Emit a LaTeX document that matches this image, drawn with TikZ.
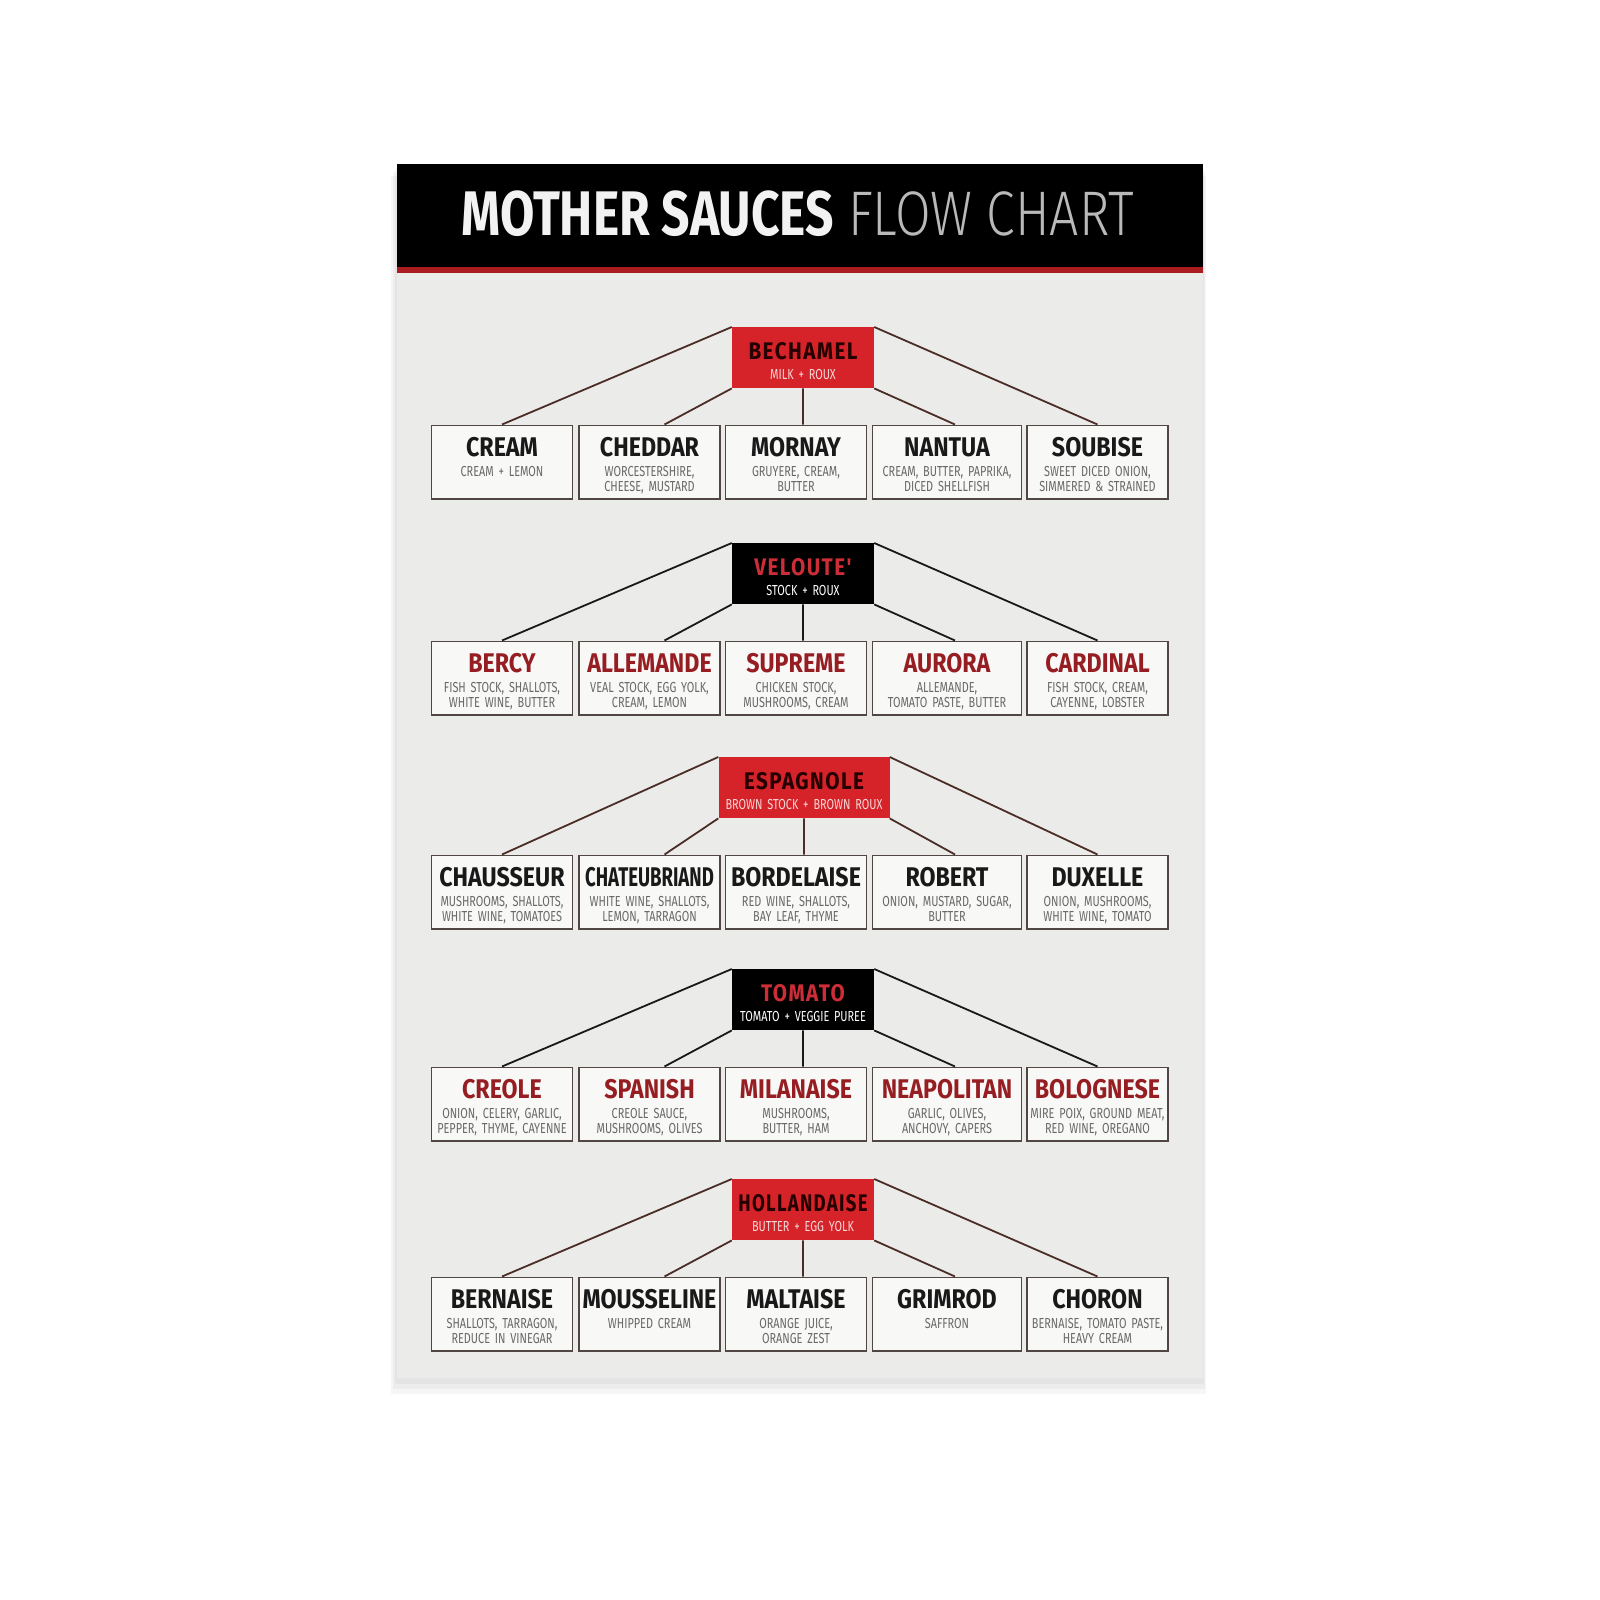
\documentclass[tikz,border=0pt]{standalone}
\usepackage{fontspec}
\setmainfont{Fira Sans}
\newfontfamily\cabecera{Fira Sans}[FakeStretch=0.79]
\newfontfamily\cabeceraligera{Fira Sans Light}[FakeStretch=0.82]
\newfontfamily\nombrefont{Fira Sans}[FakeStretch=0.86]
\newfontfamily\madrefont{Fira Sans}[FakeStretch=0.86,LetterSpace=6]
\newfontfamily\notafont{Fira Sans}[FakeStretch=0.75,WordSpace=0.6]

\definecolor{rojosalsa}{RGB}{214,35,41}
\definecolor{rojooscuro}{RGB}{150,30,35}
\definecolor{rojotexto}{RGB}{205,45,55}
\definecolor{gristexto}{RGB}{105,105,105}
\definecolor{marmol}{RGB}{235,235,234}
\definecolor{cajafondo}{RGB}{248,248,247}
\definecolor{bordecaja}{RGB}{80,70,68}
\definecolor{lineamarron}{RGB}{75,45,40}
\definecolor{rosaclaro}{RGB}{245,215,215}
\definecolor{grisclaro}{RGB}{185,185,185}
\colorlet{nombrecolor}{black}
\colorlet{madrecolor}{black}

\newcommand{\nombre}[1]{{\nombrefont\bfseries\fontsize{27}{27}\selectfont\color{nombrecolor}#1}}
\newcommand{\salsamadre}[1]{{\madrefont\bfseries\fontsize{24}{24}\selectfont\color{madrecolor}#1}}

\begin{document}
\begin{tikzpicture}[x=1pt,y=-1pt,
    madre/.style={anchor=north, text width=142pt, inner sep=0pt,
      text height=32.7pt, text depth=28.3pt, align=center,
      font=\notafont\fontsize{14.5}{20}\selectfont},
    madreroja/.style={madre, fill=rojosalsa, text=rosaclaro,
      execute at begin node=\colorlet{madrecolor}{black!85!red}},
    madrenegra/.style={madre, fill=black, text=white,
      execute at begin node=\colorlet{madrecolor}{rojotexto}},
    hija/.style={anchor=north, draw=bordecaja, line width=1.8pt, fill=cajafondo,
      text width=141pt, inner sep=0pt, text height=31pt, text depth=42.5pt,
      align=center, text=gristexto, font=\notafont\fontsize{14.5}{15}\selectfont},
    hijanegra/.style={hija, execute at begin node=\colorlet{nombrecolor}{black!90}},
    hijaroja/.style={hija, execute at begin node=\colorlet{nombrecolor}{rojooscuro}},
    ancha/.style={text width=149pt},
    rama/.style={line width=1.8pt, draw=lineamarron},
    ramanegra/.style={line width=1.8pt, draw=black!90},
    sombra/.style={fill=black, opacity=0.035}]

    % Paso 1: Fondo blanco, sombra suave y lienzo del cartel
    \useasboundingbox (0,0) rectangle (1600,1600);
    \fill[white] (0,0) rectangle (1600,1600);
    \fill[sombra] (391,176) rectangle (1206,1394);
    \fill[sombra] (393,172) rectangle (1205,1389);
    \fill[sombra] (395,168) rectangle (1204,1384);
    \fill[marmol] (397,164) rectangle (1203,1378);

    % Paso 2: Cabecera negra con franja roja y titulo
    \fill[black] (397,164) rectangle (1203,267);
    \fill[rojosalsa!80!black] (397,267) rectangle (1203,273);
    \node[anchor=base, inner sep=0pt] (titulo) at (798,235)
      {{\cabecera\bfseries\fontsize{63}{63}\selectfont\color{white!95!black}MOTHER SAUCES}\hspace{14pt}{\cabeceraligera\fontsize{63}{63}\selectfont\color{grisclaro}FLOW CHART}};

    % Paso 3: Familia BECHAMEL
    \node[madreroja] (bechamel) at (803,327) {\salsamadre{BECHAMEL}\\ MILK + ROUX};
    \node[hijanegra] (cream) at (502,424.5) {\nombre{CREAM}\\[5pt] CREAM + LEMON};
    \node[hijanegra] (cheddar) at (649.5,424.5) {\nombre{CHEDDAR}\\[5pt] WORCESTERSHIRE,\\ CHEESE, MUSTARD};
    \node[hijanegra] (mornay) at (796,424.5) {\nombre{MORNAY}\\[5pt] GRUYERE, CREAM,\\ BUTTER};
    \node[hijanegra,ancha] (nantua) at (947,424.5) {\nombre{NANTUA}\\[5pt] CREAM, BUTTER, PAPRIKA,\\ DICED SHELLFISH};
    \node[hijanegra] (soubise) at (1097.5,424.5) {\nombre{SOUBISE}\\[5pt] SWEET DICED ONION,\\ SIMMERED \& STRAINED};
    \draw[rama] (bechamel.north west) -- (cream.north)
      (bechamel.south west) -- ([xshift=15pt]cheddar.north)
      (bechamel.south) -- (bechamel.south |- mornay.north)
      (bechamel.south east) -- ([xshift=8pt]nantua.north)
      (bechamel.north east) -- (soubise.north);

    % Paso 4: Familia VELOUTE
    \node[madrenegra] (veloute) at (803,543) {\salsamadre{VELOUTE'}\\ STOCK + ROUX};
    \node[hijaroja] (bercy) at (502,640.5) {\nombre{BERCY}\\[5pt] FISH STOCK, SHALLOTS,\\ WHITE WINE, BUTTER};
    \node[hijaroja] (allemande) at (649.5,640.5) {\nombre{ALLEMANDE}\\[5pt] VEAL STOCK, EGG YOLK,\\ CREAM, LEMON};
    \node[hijaroja] (supreme) at (796,640.5) {\nombre{SUPREME}\\[5pt] CHICKEN STOCK,\\ MUSHROOMS, CREAM};
    \node[hijaroja,ancha] (aurora) at (947,640.5) {\nombre{AURORA}\\[5pt] ALLEMANDE,\\ TOMATO PASTE, BUTTER};
    \node[hijaroja] (cardinal) at (1097.5,640.5) {\nombre{CARDINAL}\\[5pt] FISH STOCK, CREAM,\\ CAYENNE, LOBSTER};
    \draw[ramanegra] (veloute.north west) -- (bercy.north)
      (veloute.south west) -- ([xshift=15pt]allemande.north)
      (veloute.south) -- (veloute.south |- supreme.north)
      (veloute.south east) -- ([xshift=8pt]aurora.north)
      (veloute.north east) -- (cardinal.north);

    % Paso 5: Familia ESPAGNOLE
    \node[madreroja,text width=171pt] (espagnole) at (804,757) {\salsamadre{ESPAGNOLE}\\ BROWN STOCK + BROWN ROUX};
    \node[hijanegra] (chausseur) at (502,854.5) {\nombre{CHAUSSEUR}\\[5pt] MUSHROOMS, SHALLOTS,\\ WHITE WINE, TOMATOES};
    \node[hijanegra] (chateubriand) at (649.5,854.5) {\nombre{\scalebox{0.8}[1]{CHATEUBRIAND}}\\[5pt] WHITE WINE, SHALLOTS,\\ LEMON, TARRAGON};
    \node[hijanegra] (bordelaise) at (796,854.5) {\nombre{BORDELAISE}\\[5pt] RED WINE, SHALLOTS,\\ BAY LEAF, THYME};
    \node[hijanegra,ancha] (robert) at (947,854.5) {\nombre{ROBERT}\\[5pt] ONION, MUSTARD, SUGAR,\\ BUTTER};
    \node[hijanegra] (duxelle) at (1097.5,854.5) {\nombre{DUXELLE}\\[5pt] ONION, MUSHROOMS,\\ WHITE WINE, TOMATO};
    \draw[rama] (espagnole.north west) -- (chausseur.north)
      (espagnole.south west) -- ([xshift=15pt]chateubriand.north)
      (espagnole.south) -- (espagnole.south |- bordelaise.north)
      (espagnole.south east) -- ([xshift=8pt]robert.north)
      (espagnole.north east) -- (duxelle.north);

    % Paso 6: Familia TOMATO
    \node[madrenegra] (tomato) at (803,969) {\salsamadre{TOMATO}\\ TOMATO + VEGGIE PUREE};
    \node[hijaroja] (creole) at (502,1066.5) {\nombre{CREOLE}\\[5pt] ONION, CELERY, GARLIC,\\ PEPPER, THYME, CAYENNE};
    \node[hijaroja] (spanish) at (649.5,1066.5) {\nombre{SPANISH}\\[5pt] CREOLE SAUCE,\\ MUSHROOMS, OLIVES};
    \node[hijaroja] (milanaise) at (796,1066.5) {\nombre{MILANAISE}\\[5pt] MUSHROOMS,\\ BUTTER, HAM};
    \node[hijaroja,ancha] (neapolitan) at (947,1066.5) {\nombre{NEAPOLITAN}\\[5pt] GARLIC, OLIVES,\\ ANCHOVY, CAPERS};
    \node[hijaroja] (bolognese) at (1097.5,1066.5) {\nombre{BOLOGNESE}\\[5pt] MIRE POIX, GROUND MEAT,\\ RED WINE, OREGANO};
    \draw[ramanegra] (tomato.north west) -- (creole.north)
      (tomato.south west) -- ([xshift=15pt]spanish.north)
      (tomato.south) -- (tomato.south |- milanaise.north)
      (tomato.south east) -- ([xshift=8pt]neapolitan.north)
      (tomato.north east) -- (bolognese.north);

    % Paso 7: Familia HOLLANDAISE
    \node[madreroja] (hollandaise) at (803,1179) {\salsamadre{\scalebox{0.9}[1]{HOLLANDAISE}}\\ BUTTER + EGG YOLK};
    \node[hijanegra] (bernaise) at (502,1276.5) {\nombre{BERNAISE}\\[5pt] SHALLOTS, TARRAGON,\\ REDUCE IN VINEGAR};
    \node[hijanegra] (mousseline) at (649.5,1276.5) {\nombre{MOUSSELINE}\\[5pt] WHIPPED CREAM};
    \node[hijanegra] (maltaise) at (796,1276.5) {\nombre{MALTAISE}\\[5pt] ORANGE JUICE,\\ ORANGE ZEST};
    \node[hijanegra,ancha] (grimrod) at (947,1276.5) {\nombre{GRIMROD}\\[5pt] SAFFRON};
    \node[hijanegra] (choron) at (1097.5,1276.5) {\nombre{CHORON}\\[5pt] BERNAISE, TOMATO PASTE,\\ HEAVY CREAM};
    \draw[rama] (hollandaise.north west) -- (bernaise.north)
      (hollandaise.south west) -- ([xshift=15pt]mousseline.north)
      (hollandaise.south) -- (hollandaise.south |- maltaise.north)
      (hollandaise.south east) -- ([xshift=8pt]grimrod.north)
      (hollandaise.north east) -- (choron.north);
\end{tikzpicture}
\end{document}
